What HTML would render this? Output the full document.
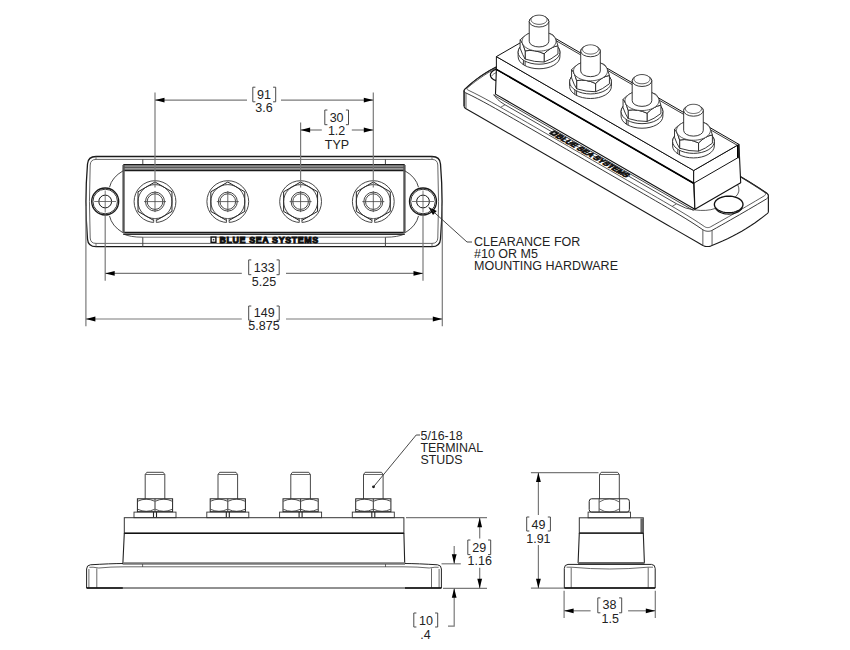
<!DOCTYPE html>
<html><head><meta charset="utf-8"><style>
html,body{margin:0;padding:0;background:#fff;}
svg{display:block;font-family:"Liberation Sans",sans-serif;}
</style></head><body>
<svg width="850" height="650" viewBox="0 0 850 650">
<rect width="850" height="650" fill="#fff"/>
<path d="M96,156.5 H432 Q440,156.5 440.5,164 Q443.6,201.5 440.5,239 Q440,246.7 432,246.7 H96 Q88,246.7 87.5,239 Q84.4,201.5 87.5,164 Q88,156.5 96,156.5 Z" stroke="#1a1a1a" stroke-width="1.3" fill="none" />
<path d="M96,159.4 H432 Q437.5,159.4 437.8,165 Q439.3,201.5 437.8,238 Q437.5,243.4 432,243.4 H96 Q90.5,243.4 90.2,238 Q88.7,201.5 90.2,165 Q90.5,159.4 96,159.4 Z" stroke="#555" stroke-width="0.9" fill="none" />
<line x1="96" y1="156.5" x2="96" y2="159.4" stroke="#555" stroke-width="0.8" />
<line x1="96" y1="243.4" x2="96" y2="246.7" stroke="#555" stroke-width="0.8" />
<line x1="432" y1="156.5" x2="432" y2="159.4" stroke="#555" stroke-width="0.8" />
<line x1="432" y1="243.4" x2="432" y2="246.7" stroke="#555" stroke-width="0.8" />
<line x1="142.8" y1="159.4" x2="142.8" y2="165.4" stroke="#444" stroke-width="1.0" />
<line x1="142.8" y1="237.2" x2="142.8" y2="246.6" stroke="#444" stroke-width="1.0" />
<line x1="385.4" y1="159.4" x2="385.4" y2="165.4" stroke="#444" stroke-width="1.0" />
<line x1="385.4" y1="237.2" x2="385.4" y2="246.6" stroke="#444" stroke-width="1.0" />
<line x1="142.8" y1="237.2" x2="385.4" y2="237.2" stroke="#666" stroke-width="0.9" />
<path d="M123.5,234 Q130,237.2 142.8,237.2" stroke="#444" stroke-width="0.9" fill="none" />
<path d="M404.5,234 Q398,237.2 385.4,237.2" stroke="#444" stroke-width="0.9" fill="none" />
<rect x="123.3" y="164.7" width="281.4" height="5.8" fill="#9a9a9a"/>
<line x1="123.3" y1="164.7" x2="404.7" y2="164.7" stroke="#1a1a1a" stroke-width="1.2" />
<line x1="123.3" y1="167.3" x2="404.7" y2="167.3" stroke="#333" stroke-width="0.8" />
<line x1="123.3" y1="170.5" x2="404.7" y2="170.5" stroke="#1a1a1a" stroke-width="1.3" />
<rect x="123.3" y="232.3" width="281.4" height="2.3" fill="#777"/>
<line x1="123.3" y1="232.4" x2="404.7" y2="232.4" stroke="#1a1a1a" stroke-width="1.3" />
<line x1="123.3" y1="234.5" x2="404.7" y2="234.5" stroke="#222" stroke-width="0.9" />
<rect x="122.4" y="165" width="2.3" height="68" fill="#555"/>
<rect x="403.3" y="165" width="2.3" height="68" fill="#555"/>
<path d="M123.3,170.7 Q111.8,177.2 109.5,187.3" stroke="#333" stroke-width="0.9" fill="none" />
<path d="M122.6,232.5 Q111.8,226 109.5,215.9" stroke="#333" stroke-width="0.9" fill="none" />
<path d="M404.7,170.7 Q416.2,177.2 418.5,187.3" stroke="#333" stroke-width="0.9" fill="none" />
<path d="M405.4,232.5 Q416.2,226 418.5,215.9" stroke="#333" stroke-width="0.9" fill="none" />
<circle cx="105.2" cy="201.5" r="13.5" stroke="#1a1a1a" stroke-width="1.3" fill="none"/>
<circle cx="105.2" cy="201.5" r="12.3" stroke="#333" stroke-width="1.0" fill="none"/>
<circle cx="105.2" cy="201.5" r="6.4" stroke="#1a1a1a" stroke-width="1.0" fill="none"/>
<line x1="94.2" y1="201.5" x2="116.2" y2="201.5" stroke="#555" stroke-width="0.8" />
<line x1="105.2" y1="190.5" x2="105.2" y2="212.5" stroke="#555" stroke-width="0.8" />
<circle cx="423" cy="201.5" r="13.5" stroke="#1a1a1a" stroke-width="1.3" fill="none"/>
<circle cx="423" cy="201.5" r="12.3" stroke="#333" stroke-width="1.0" fill="none"/>
<circle cx="423" cy="201.5" r="6.4" stroke="#1a1a1a" stroke-width="1.0" fill="none"/>
<line x1="412" y1="201.5" x2="434" y2="201.5" stroke="#555" stroke-width="0.8" />
<line x1="423" y1="190.5" x2="423" y2="212.5" stroke="#555" stroke-width="0.8" />
<circle cx="155" cy="201.6" r="20.9" stroke="#333" stroke-width="0.9" fill="none"/>
<polygon points="155.00,182.00 138.03,191.80 138.03,211.40 155.00,221.20 171.97,211.40 171.97,191.80" fill="none" stroke="#222" stroke-width="1.0"/>
<circle cx="155" cy="201.6" r="17.0" stroke="#333" stroke-width="0.9" fill="none"/>
<circle cx="155" cy="201.6" r="9.5" stroke="#333" stroke-width="0.9" fill="none"/>
<circle cx="155" cy="201.6" r="7.8" stroke="#333" stroke-width="0.9" fill="none"/>
<line x1="144" y1="201.6" x2="166" y2="201.6" stroke="#444" stroke-width="0.8" />
<line x1="155" y1="191.1" x2="155" y2="212.1" stroke="#444" stroke-width="0.8" />
<rect x="153.7" y="218.79999999999998" width="2.6" height="4.2" fill="#fff"/>
<line x1="153.7" y1="219.1" x2="153.7" y2="222.4" stroke="#333" stroke-width="0.8" />
<line x1="156.3" y1="219.1" x2="156.3" y2="222.4" stroke="#333" stroke-width="0.8" />
<circle cx="227.8" cy="201.6" r="20.9" stroke="#333" stroke-width="0.9" fill="none"/>
<polygon points="227.80,182.00 210.83,191.80 210.83,211.40 227.80,221.20 244.77,211.40 244.77,191.80" fill="none" stroke="#222" stroke-width="1.0"/>
<circle cx="227.8" cy="201.6" r="17.0" stroke="#333" stroke-width="0.9" fill="none"/>
<circle cx="227.8" cy="201.6" r="9.5" stroke="#333" stroke-width="0.9" fill="none"/>
<circle cx="227.8" cy="201.6" r="7.8" stroke="#333" stroke-width="0.9" fill="none"/>
<line x1="216.8" y1="201.6" x2="238.8" y2="201.6" stroke="#444" stroke-width="0.8" />
<line x1="227.8" y1="191.1" x2="227.8" y2="212.1" stroke="#444" stroke-width="0.8" />
<rect x="226.5" y="218.79999999999998" width="2.6" height="4.2" fill="#fff"/>
<line x1="226.5" y1="219.1" x2="226.5" y2="222.4" stroke="#333" stroke-width="0.8" />
<line x1="229.10000000000002" y1="219.1" x2="229.10000000000002" y2="222.4" stroke="#333" stroke-width="0.8" />
<circle cx="300.6" cy="201.6" r="20.9" stroke="#333" stroke-width="0.9" fill="none"/>
<polygon points="300.60,182.00 283.63,191.80 283.63,211.40 300.60,221.20 317.57,211.40 317.57,191.80" fill="none" stroke="#222" stroke-width="1.0"/>
<circle cx="300.6" cy="201.6" r="17.0" stroke="#333" stroke-width="0.9" fill="none"/>
<circle cx="300.6" cy="201.6" r="9.5" stroke="#333" stroke-width="0.9" fill="none"/>
<circle cx="300.6" cy="201.6" r="7.8" stroke="#333" stroke-width="0.9" fill="none"/>
<line x1="289.6" y1="201.6" x2="311.6" y2="201.6" stroke="#444" stroke-width="0.8" />
<line x1="300.6" y1="191.1" x2="300.6" y2="212.1" stroke="#444" stroke-width="0.8" />
<rect x="299.3" y="218.79999999999998" width="2.6" height="4.2" fill="#fff"/>
<line x1="299.3" y1="219.1" x2="299.3" y2="222.4" stroke="#333" stroke-width="0.8" />
<line x1="301.90000000000003" y1="219.1" x2="301.90000000000003" y2="222.4" stroke="#333" stroke-width="0.8" />
<circle cx="373.3" cy="201.6" r="20.9" stroke="#333" stroke-width="0.9" fill="none"/>
<polygon points="373.30,182.00 356.33,191.80 356.33,211.40 373.30,221.20 390.27,211.40 390.27,191.80" fill="none" stroke="#222" stroke-width="1.0"/>
<circle cx="373.3" cy="201.6" r="17.0" stroke="#333" stroke-width="0.9" fill="none"/>
<circle cx="373.3" cy="201.6" r="9.5" stroke="#333" stroke-width="0.9" fill="none"/>
<circle cx="373.3" cy="201.6" r="7.8" stroke="#333" stroke-width="0.9" fill="none"/>
<line x1="362.3" y1="201.6" x2="384.3" y2="201.6" stroke="#444" stroke-width="0.8" />
<line x1="373.3" y1="191.1" x2="373.3" y2="212.1" stroke="#444" stroke-width="0.8" />
<rect x="372.0" y="218.79999999999998" width="2.6" height="4.2" fill="#fff"/>
<line x1="372.0" y1="219.1" x2="372.0" y2="222.4" stroke="#333" stroke-width="0.8" />
<line x1="374.6" y1="219.1" x2="374.6" y2="222.4" stroke="#333" stroke-width="0.8" />
<rect x="210.4" y="236.4" width="6.2" height="6.6" fill="#111"/>
<rect x="211.8" y="237.8" width="3.4" height="3.8" fill="#fff"/>
<rect x="212.8" y="238.9" width="1.5" height="1.6" fill="#333"/>
<text x="219.5" y="243.1" font-size="8.9" text-anchor="start" fill="#111" font-weight="bold" letter-spacing="0.62" stroke="#111" stroke-width="0.95">BLUE SEA SYSTEMS</text>
<line x1="155" y1="92.5" x2="155" y2="187.5" stroke="#7a7a7a" stroke-width="1.2" />
<line x1="373.3" y1="92.5" x2="373.3" y2="187.5" stroke="#7a7a7a" stroke-width="1.2" />
<line x1="155" y1="100.1" x2="247" y2="100.1" stroke="#7a7a7a" stroke-width="1.2" />
<line x1="281" y1="100.1" x2="373.3" y2="100.1" stroke="#7a7a7a" stroke-width="1.2" />
<path d="M155.00,100.10 L164.50,97.70 L164.50,102.50 Z" fill="#000"/>
<path d="M373.30,100.10 L363.80,102.50 L363.80,97.70 Z" fill="#000"/>
<path d="M255.4,87.2 H252.8 V101.8 H255.4" stroke="#4a4a4a" stroke-width="1.0" fill="none" />
<path d="M273.09999999999997,87.2 H275.7 V101.8 H273.09999999999997" stroke="#4a4a4a" stroke-width="1.0" fill="none" />
<text x="264" y="98.9" font-size="12.5" text-anchor="middle" fill="#222" >91</text>
<text x="264" y="111.8" font-size="12.5" text-anchor="middle" fill="#222" >3.6</text>
<line x1="300.6" y1="122.4" x2="300.6" y2="187.5" stroke="#7a7a7a" stroke-width="1.2" />
<line x1="300.6" y1="130" x2="321.8" y2="130" stroke="#7a7a7a" stroke-width="1.2" />
<line x1="351.8" y1="130" x2="373.3" y2="130" stroke="#7a7a7a" stroke-width="1.2" />
<path d="M300.60,130.00 L310.10,127.60 L310.10,132.40 Z" fill="#000"/>
<path d="M373.30,130.00 L363.80,132.40 L363.80,127.60 Z" fill="#000"/>
<path d="M327.40000000000003,110 H324.8 V124.7 H327.40000000000003" stroke="#4a4a4a" stroke-width="1.0" fill="none" />
<path d="M345.9,110 H348.5 V124.7 H345.9" stroke="#4a4a4a" stroke-width="1.0" fill="none" />
<text x="336.6" y="121.8" font-size="12.5" text-anchor="middle" fill="#222" >30</text>
<text x="336.6" y="134.8" font-size="12.5" text-anchor="middle" fill="#222" >1.2</text>
<text x="337" y="148.8" font-size="12.5" text-anchor="middle" fill="#222" >TYP</text>
<line x1="105.2" y1="215.5" x2="105.2" y2="280.8" stroke="#7a7a7a" stroke-width="1.2" />
<line x1="423" y1="215.5" x2="423" y2="280.8" stroke="#7a7a7a" stroke-width="1.2" />
<line x1="105.2" y1="273.4" x2="241.8" y2="273.4" stroke="#7a7a7a" stroke-width="1.2" />
<line x1="286" y1="273.4" x2="423" y2="273.4" stroke="#7a7a7a" stroke-width="1.2" />
<path d="M105.20,273.40 L114.70,271.00 L114.70,275.80 Z" fill="#000"/>
<path d="M423.00,273.40 L413.50,275.80 L413.50,271.00 Z" fill="#000"/>
<path d="M251.3,259.9 H248.70000000000002 V274.7 H251.3" stroke="#4a4a4a" stroke-width="1.0" fill="none" />
<path d="M276.59999999999997,259.9 H279.2 V274.7 H276.59999999999997" stroke="#4a4a4a" stroke-width="1.0" fill="none" />
<text x="264.3" y="271.7" font-size="12.5" text-anchor="middle" fill="#222" >133</text>
<text x="264" y="285.5" font-size="12.5" text-anchor="middle" fill="#222" >5.25</text>
<line x1="85.9" y1="206" x2="85.9" y2="326.3" stroke="#7a7a7a" stroke-width="1.2" />
<line x1="442.3" y1="206" x2="442.3" y2="326.3" stroke="#7a7a7a" stroke-width="1.2" />
<line x1="85.9" y1="319" x2="241.8" y2="319" stroke="#7a7a7a" stroke-width="1.2" />
<line x1="286" y1="319" x2="442.3" y2="319" stroke="#7a7a7a" stroke-width="1.2" />
<path d="M85.90,319.00 L95.40,316.60 L95.40,321.40 Z" fill="#000"/>
<path d="M442.30,319.00 L432.80,321.40 L432.80,316.60 Z" fill="#000"/>
<path d="M251.3,306 H248.70000000000002 V320.2 H251.3" stroke="#4a4a4a" stroke-width="1.0" fill="none" />
<path d="M276.59999999999997,306 H279.2 V320.2 H276.59999999999997" stroke="#4a4a4a" stroke-width="1.0" fill="none" />
<text x="264.3" y="317.1" font-size="12.5" text-anchor="middle" fill="#222" >149</text>
<text x="264" y="330.3" font-size="12.5" text-anchor="middle" fill="#222" >5.875</text>
<path d="M428.60,207.30 L436.77,210.95 L433.01,215.09 Z" fill="#000"/>
<line x1="428.6" y1="207.3" x2="467" y2="242" stroke="#333" stroke-width="0.9" />
<line x1="467" y1="242" x2="472" y2="242" stroke="#333" stroke-width="0.9" />
<text x="474" y="246.2" font-size="12.5" text-anchor="start" fill="#222" >CLEARANCE FOR</text>
<text x="474" y="258.4" font-size="12.5" text-anchor="start" fill="#222" >#10 OR M5</text>
<text x="474" y="269.7" font-size="12.5" text-anchor="start" fill="#222" >MOUNTING HARDWARE</text>
<path d="M145.2,498.8 V474.5 L146.79999999999998,472.3 H163.20000000000002 L164.8,474.5 V498.8" stroke="#333" stroke-width="0.9" fill="none" />
<line x1="145.2" y1="474.5" x2="164.8" y2="474.5" stroke="#444" stroke-width="0.8" />
<rect x="137.4" y="498.8" width="35.2" height="12.899999999999977" fill="none" stroke="#222" stroke-width="1"/>
<line x1="155" y1="498.8" x2="155" y2="511.7" stroke="#333" stroke-width="1.0" />
<path d="M137.8,501.2 Q146.2,497.2 154.6,501.2" stroke="#333" stroke-width="0.85" fill="none" />
<path d="M137.8,509.3 Q146.2,513.3 154.6,509.3" stroke="#333" stroke-width="0.85" fill="none" />
<path d="M155.4,501.2 Q163.8,497.2 172.2,501.2" stroke="#333" stroke-width="0.85" fill="none" />
<path d="M155.4,509.3 Q163.8,513.3 172.2,509.3" stroke="#333" stroke-width="0.85" fill="none" />
<rect x="134" y="512.1" width="42" height="5.600000000000023" fill="none" stroke="#333" stroke-width="0.9"/>
<line x1="153.5" y1="512.1" x2="153.5" y2="517.7" stroke="#222" stroke-width="1.1" />
<line x1="156.5" y1="512.1" x2="156.5" y2="517.7" stroke="#222" stroke-width="1.1" />
<path d="M218.0,498.8 V474.5 L219.6,472.3 H236.00000000000003 L237.60000000000002,474.5 V498.8" stroke="#333" stroke-width="0.9" fill="none" />
<line x1="218.0" y1="474.5" x2="237.60000000000002" y2="474.5" stroke="#444" stroke-width="0.8" />
<rect x="210.20000000000002" y="498.8" width="35.2" height="12.899999999999977" fill="none" stroke="#222" stroke-width="1"/>
<line x1="227.8" y1="498.8" x2="227.8" y2="511.7" stroke="#333" stroke-width="1.0" />
<path d="M210.60000000000002,501.2 Q219.0,497.2 227.4,501.2" stroke="#333" stroke-width="0.85" fill="none" />
<path d="M210.60000000000002,509.3 Q219.0,513.3 227.4,509.3" stroke="#333" stroke-width="0.85" fill="none" />
<path d="M228.20000000000002,501.2 Q236.60000000000002,497.2 245.0,501.2" stroke="#333" stroke-width="0.85" fill="none" />
<path d="M228.20000000000002,509.3 Q236.60000000000002,513.3 245.0,509.3" stroke="#333" stroke-width="0.85" fill="none" />
<rect x="206.8" y="512.1" width="42" height="5.600000000000023" fill="none" stroke="#333" stroke-width="0.9"/>
<line x1="226.3" y1="512.1" x2="226.3" y2="517.7" stroke="#222" stroke-width="1.1" />
<line x1="229.3" y1="512.1" x2="229.3" y2="517.7" stroke="#222" stroke-width="1.1" />
<path d="M290.8,498.8 V474.5 L292.40000000000003,472.3 H308.8 L310.40000000000003,474.5 V498.8" stroke="#333" stroke-width="0.9" fill="none" />
<line x1="290.8" y1="474.5" x2="310.40000000000003" y2="474.5" stroke="#444" stroke-width="0.8" />
<rect x="283.0" y="498.8" width="35.2" height="12.899999999999977" fill="none" stroke="#222" stroke-width="1"/>
<line x1="300.6" y1="498.8" x2="300.6" y2="511.7" stroke="#333" stroke-width="1.0" />
<path d="M283.4,501.2 Q291.8,497.2 300.20000000000005,501.2" stroke="#333" stroke-width="0.85" fill="none" />
<path d="M283.4,509.3 Q291.8,513.3 300.20000000000005,509.3" stroke="#333" stroke-width="0.85" fill="none" />
<path d="M301.0,501.2 Q309.40000000000003,497.2 317.80000000000007,501.2" stroke="#333" stroke-width="0.85" fill="none" />
<path d="M301.0,509.3 Q309.40000000000003,513.3 317.80000000000007,509.3" stroke="#333" stroke-width="0.85" fill="none" />
<rect x="279.6" y="512.1" width="42" height="5.600000000000023" fill="none" stroke="#333" stroke-width="0.9"/>
<line x1="299.1" y1="512.1" x2="299.1" y2="517.7" stroke="#222" stroke-width="1.1" />
<line x1="302.1" y1="512.1" x2="302.1" y2="517.7" stroke="#222" stroke-width="1.1" />
<path d="M363.5,498.8 V474.5 L365.1,472.3 H381.5 L383.1,474.5 V498.8" stroke="#333" stroke-width="0.9" fill="none" />
<line x1="363.5" y1="474.5" x2="383.1" y2="474.5" stroke="#444" stroke-width="0.8" />
<rect x="355.7" y="498.8" width="35.2" height="12.899999999999977" fill="none" stroke="#222" stroke-width="1"/>
<line x1="373.3" y1="498.8" x2="373.3" y2="511.7" stroke="#333" stroke-width="1.0" />
<path d="M356.09999999999997,501.2 Q364.5,497.2 372.90000000000003,501.2" stroke="#333" stroke-width="0.85" fill="none" />
<path d="M356.09999999999997,509.3 Q364.5,513.3 372.90000000000003,509.3" stroke="#333" stroke-width="0.85" fill="none" />
<path d="M373.7,501.2 Q382.1,497.2 390.50000000000006,501.2" stroke="#333" stroke-width="0.85" fill="none" />
<path d="M373.7,509.3 Q382.1,513.3 390.50000000000006,509.3" stroke="#333" stroke-width="0.85" fill="none" />
<rect x="352.3" y="512.1" width="42" height="5.600000000000023" fill="none" stroke="#333" stroke-width="0.9"/>
<line x1="371.8" y1="512.1" x2="371.8" y2="517.7" stroke="#222" stroke-width="1.1" />
<line x1="374.8" y1="512.1" x2="374.8" y2="517.7" stroke="#222" stroke-width="1.1" />
<rect x="124.3" y="517.7" width="279.6" height="15.6" fill="none" stroke="#333" stroke-width="1"/>
<line x1="124.3" y1="533.3" x2="403.9" y2="533.3" stroke="#111" stroke-width="1.4" />
<path d="M124.3,533.3 L122.9,563 M403.9,533.3 L404.7,563" stroke="#222" stroke-width="1.1" fill="none" />
<line x1="122.6" y1="563.5" x2="405" y2="563.5" stroke="#777" stroke-width="2.4" />
<path d="M123,563.5 Q110,563.6 90.4,564.8 Q86.6,565.2 86.6,569 V588 H441.4 V569 Q441.4,565.2 437.6,564.8 Q418,563.6 405,563.5" stroke="#222" stroke-width="1.0" fill="none" />
<path d="M89.4,567.3 Q92,566.8 98.8,568 Q110,566.8 125,566.8 H403 Q418,566.8 429.2,568 Q436,566.8 438.6,567.3" stroke="#444" stroke-width="0.8" fill="none" />
<line x1="88.9" y1="569" x2="88.9" y2="588" stroke="#444" stroke-width="0.8" />
<line x1="96.8" y1="568.4" x2="96.8" y2="588" stroke="#444" stroke-width="0.8" />
<line x1="439.1" y1="569" x2="439.1" y2="588" stroke="#444" stroke-width="0.8" />
<line x1="431.5" y1="568.4" x2="431.5" y2="588" stroke="#444" stroke-width="0.8" />
<line x1="142.6" y1="564" x2="142.6" y2="567" stroke="#444" stroke-width="0.8" />
<line x1="385.5" y1="564" x2="385.5" y2="567" stroke="#444" stroke-width="0.8" />
<line x1="86.6" y1="588" x2="122.8" y2="588" stroke="#111" stroke-width="1.5" />
<line x1="405" y1="588" x2="441.4" y2="588" stroke="#111" stroke-width="1.5" />
<line x1="406" y1="517.7" x2="487" y2="517.7" stroke="#7a7a7a" stroke-width="1.2" />
<line x1="443" y1="588.3" x2="487" y2="588.3" stroke="#7a7a7a" stroke-width="1.2" />
<line x1="441.5" y1="563.8" x2="460.8" y2="563.8" stroke="#7a7a7a" stroke-width="1.2" />
<line x1="479.7" y1="517.7" x2="479.7" y2="538.5" stroke="#7a7a7a" stroke-width="1.2" />
<line x1="479.7" y1="567.7" x2="479.7" y2="588.3" stroke="#7a7a7a" stroke-width="1.2" />
<path d="M479.70,517.70 L482.10,527.20 L477.30,527.20 Z" fill="#000"/>
<path d="M479.70,588.30 L477.30,578.80 L482.10,578.80 Z" fill="#000"/>
<path d="M470.40000000000003,540 H467.8 V554.6 H470.40000000000003" stroke="#4a4a4a" stroke-width="1.0" fill="none" />
<path d="M488.09999999999997,540 H490.7 V554.6 H488.09999999999997" stroke="#4a4a4a" stroke-width="1.0" fill="none" />
<text x="479.2" y="551.5" font-size="12.5" text-anchor="middle" fill="#222" >29</text>
<text x="479.7" y="564.6" font-size="12.5" text-anchor="middle" fill="#222" >1.16</text>
<line x1="454.2" y1="546" x2="454.2" y2="563.8" stroke="#7a7a7a" stroke-width="1.2" />
<path d="M454.20,563.80 L451.80,554.30 L456.60,554.30 Z" fill="#000"/>
<path d="M454.2,588.3 V626.2 H448" stroke="#7a7a7a" stroke-width="1.2" fill="none" />
<path d="M454.20,588.30 L456.60,597.80 L451.80,597.80 Z" fill="#000"/>
<path d="M416.40000000000003,613 H413.8 V627 H416.40000000000003" stroke="#4a4a4a" stroke-width="1.0" fill="none" />
<path d="M435.09999999999997,613 H437.7 V627 H435.09999999999997" stroke="#4a4a4a" stroke-width="1.0" fill="none" />
<text x="426" y="624.5" font-size="12.5" text-anchor="middle" fill="#222" >10</text>
<text x="425.5" y="638.5" font-size="12.5" text-anchor="middle" fill="#222" >.4</text>
<circle cx="373.5" cy="486.8" r="1.4" fill="#111"/>
<line x1="373.5" y1="486.8" x2="416.2" y2="435" stroke="#333" stroke-width="0.9" />
<line x1="416.2" y1="435" x2="420" y2="435" stroke="#333" stroke-width="0.9" />
<text x="420.5" y="439.8" font-size="12.4" text-anchor="start" fill="#222" >5/16-18</text>
<text x="420.5" y="451.9" font-size="12.4" text-anchor="start" fill="#222" >TERMINAL</text>
<text x="420.5" y="463.7" font-size="12.4" text-anchor="start" fill="#222" >STUDS</text>
<path d="M599.5,499 V474.5 L601.2,472.3 H617.6 L619.3,474.5 V499" stroke="#333" stroke-width="0.9" fill="none" />
<line x1="599.5" y1="474.5" x2="619.3" y2="474.5" stroke="#444" stroke-width="0.8" />
<path d="M599.1,498.8 H591.5 Q589.2,498.8 589.2,501.5 V509.4 Q589.2,512.1 591.5,512.1 H599.1" stroke="#222" stroke-width="1.0" fill="none" />
<path d="M619.6,498.8 H627.1 Q629.4,498.8 629.4,501.5 V509.4 Q629.4,512.1 627.1,512.1 H619.6" stroke="#222" stroke-width="1.0" fill="none" />
<line x1="599.1" y1="498.8" x2="619.6" y2="498.8" stroke="#222" stroke-width="1.0" />
<line x1="599.1" y1="512.1" x2="619.6" y2="512.1" stroke="#222" stroke-width="1.0" />
<line x1="599.1" y1="498.8" x2="599.1" y2="512.1" stroke="#333" stroke-width="0.9" />
<line x1="619.6" y1="498.8" x2="619.6" y2="512.1" stroke="#333" stroke-width="0.9" />
<path d="M599.3,502 Q609.4,495.6 619.4,502" stroke="#444" stroke-width="0.8" fill="none" />
<path d="M599.3,508.9 Q609.4,515.3 619.4,508.9" stroke="#444" stroke-width="0.8" fill="none" />
<rect x="588.1" y="512.1" width="42.4" height="5.7" fill="none" stroke="#333" stroke-width="0.9"/>
<rect x="579.3" y="517.8" width="64" height="15.3" fill="none" stroke="#333" stroke-width="1"/>
<path d="M640.4,518.3 H643.3 V533.1 H640.4 Z" fill="#666"/>
<line x1="579.3" y1="533.1" x2="643.3" y2="533.1" stroke="#111" stroke-width="1.4" />
<path d="M579.3,533.1 L578.1,563 M643.3,533.1 L644.4,563" stroke="#222" stroke-width="1.1" fill="none" />
<line x1="578" y1="563.3" x2="644.6" y2="563.3" stroke="#666" stroke-width="2.4" />
<path d="M564.3,588 V568.5 Q564.3,564.6 568,564.4 L651.5,564.4 Q655.2,564.6 655.2,568.5 V588 Z" stroke="#222" stroke-width="1.0" fill="none" />
<path d="M566.5,567.2 H571.5 Q609.7,570.8 648,567.2 H653" stroke="#444" stroke-width="0.8" fill="none" />
<line x1="571.2" y1="567.5" x2="571.2" y2="588" stroke="#444" stroke-width="0.8" />
<line x1="648.2" y1="567.5" x2="648.2" y2="588" stroke="#444" stroke-width="0.8" />
<line x1="564.3" y1="588" x2="655.2" y2="588" stroke="#111" stroke-width="1.3" />
<line x1="530.9" y1="472.6" x2="598.5" y2="472.6" stroke="#7a7a7a" stroke-width="1.2" />
<line x1="530.9" y1="588.2" x2="564" y2="588.2" stroke="#7a7a7a" stroke-width="1.2" />
<line x1="538.4" y1="472.6" x2="538.4" y2="515" stroke="#7a7a7a" stroke-width="1.2" />
<line x1="538.4" y1="545" x2="538.4" y2="588.2" stroke="#7a7a7a" stroke-width="1.2" />
<path d="M538.40,472.60 L540.80,482.10 L536.00,482.10 Z" fill="#000"/>
<path d="M538.40,588.20 L536.00,578.70 L540.80,578.70 Z" fill="#000"/>
<path d="M529.3,517 H526.6999999999999 V531 H529.3" stroke="#4a4a4a" stroke-width="1.0" fill="none" />
<path d="M547.8000000000001,517 H550.4000000000001 V531 H547.8000000000001" stroke="#4a4a4a" stroke-width="1.0" fill="none" />
<text x="538.4" y="529" font-size="12.5" text-anchor="middle" fill="#222" >49</text>
<text x="538.4" y="543" font-size="12.5" text-anchor="middle" fill="#222" >1.91</text>
<line x1="564.1" y1="590.8" x2="564.1" y2="618" stroke="#7a7a7a" stroke-width="1.2" />
<line x1="655.3" y1="590.8" x2="655.3" y2="618" stroke="#7a7a7a" stroke-width="1.2" />
<line x1="564.1" y1="610.8" x2="590.6" y2="610.8" stroke="#7a7a7a" stroke-width="1.2" />
<line x1="628.1" y1="610.8" x2="655.3" y2="610.8" stroke="#7a7a7a" stroke-width="1.2" />
<path d="M564.10,610.80 L573.60,608.40 L573.60,613.20 Z" fill="#000"/>
<path d="M655.30,610.80 L645.80,613.20 L645.80,608.40 Z" fill="#000"/>
<path d="M600.4,597.9 H597.8 V612.8 H600.4" stroke="#4a4a4a" stroke-width="1.0" fill="none" />
<path d="M619.1,597.9 H621.7 V612.8 H619.1" stroke="#4a4a4a" stroke-width="1.0" fill="none" />
<text x="609.4" y="608.9" font-size="12.5" text-anchor="middle" fill="#222" >38</text>
<text x="610.3" y="623.1" font-size="12.5" text-anchor="middle" fill="#222" >1.5</text>
<path d="M464.08,90.74 L464.17,90.22 L464.40,89.70 L464.79,89.19 L465.33,88.72 L469.45,85.03 L473.10,81.90 L476.95,78.89 L481.00,75.98 L485.24,73.19 L489.68,70.52 L494.31,67.95 L499.14,65.51 L504.17,63.17 L509.40,60.95 L514.82,58.84 L522.68,55.79 L523.22,55.59 L523.80,55.43 L524.41,55.31 L525.03,55.25 L525.66,55.23 L526.27,55.27 L526.85,55.36 L527.38,55.50 L528.85,55.94 L529.63,56.24 L535.55,59.09 L541.47,62.12 L547.39,65.27 L553.32,68.52 L559.24,71.82 L565.16,75.17 L571.08,78.54 L577.00,81.94 L582.93,85.34 L588.85,88.75 L594.77,92.17 L606.62,99.00 L618.46,105.84 L648.07,122.94 L659.91,129.78 L689.52,146.87 L695.45,150.29 L701.37,153.71 L707.29,157.13 L713.21,160.56 L719.13,164.00 L725.06,167.44 L730.98,170.90 L736.90,174.39 L742.82,177.93 L748.75,181.52 L754.67,185.21 L760.59,189.02 L766.51,193.00 L767.17,193.54 L767.71,194.12 L768.10,194.75 L768.34,195.41 L768.41,196.07 L768.41,211.36 L768.34,211.95 L768.10,212.52 L767.71,213.07 L767.17,213.57 L762.73,217.07 L758.81,220.05 L754.75,222.95 L750.56,225.77 L746.23,228.50 L741.76,231.16 L737.16,233.74 L732.41,236.25 L727.53,238.67 L722.51,241.01 L717.36,243.27 L711.29,245.84 L710.42,246.14 L709.48,246.37 L708.48,246.51 L707.47,246.55 L706.45,246.51 L705.46,246.37 L704.52,246.14 L703.65,245.84 L702.87,245.45 L696.95,242.03 L673.26,228.36 L667.34,224.94 L602.20,187.33 L477.83,115.53 L465.99,108.69 L465.33,108.24 L464.79,107.74 L464.40,107.19 L464.17,106.62 L464.08,106.04 Z" stroke="#1a1a1a" stroke-width="1.1" fill="#fff" stroke-linejoin="round"/>
<path d="M712.06,230.35 L711.29,230.72 L710.42,231.00 L709.48,231.19 L708.48,231.27 L707.47,231.25 L706.45,231.13 L705.46,230.92 L704.52,230.61 L703.65,230.21 L702.87,229.75 L696.95,225.76 L691.03,221.95 L685.10,218.26 L679.18,214.67 L673.26,211.13 L667.34,207.64 L661.42,204.18 L655.49,200.74 L649.57,197.30 L643.65,193.88 L637.73,190.45 L631.81,187.03 L625.88,183.61 L619.96,180.19 L614.04,176.78 L608.12,173.36 L602.20,169.94 L596.27,166.52 L590.35,163.10 L584.43,159.68 L578.51,156.26 L572.59,152.84 L566.66,149.42 L560.74,146.00 L554.82,142.58 L548.90,139.17 L542.98,135.75 L537.05,132.33 L531.13,128.91 L525.21,125.50 L519.29,122.08 L513.37,118.68 L507.44,115.29 L501.52,111.91 L495.60,108.56 L489.68,105.26 L483.76,102.01 L477.83,98.86 L471.91,95.84 L465.99,92.98 L465.33,92.62 L464.79,92.20 L464.40,91.74 L464.17,91.25 L464.09,90.74 L464.17,90.22 L464.40,89.70 L464.79,89.19 L465.33,88.72 L465.99,88.28 L469.45,85.03 L473.10,81.90 L476.95,78.89 L481.00,75.98 L485.24,73.19 L489.68,70.52 L494.31,67.96 L499.14,65.51 L504.17,63.17 L509.40,60.95 L514.82,58.84 L520.44,56.84 L521.21,56.45 L522.08,56.12 L523.02,55.85 L524.02,55.66 L525.03,55.55 L526.05,55.52 L527.04,55.58 L527.98,55.72 L528.85,55.94 L529.63,56.24 L535.55,59.09 L541.47,62.12 L547.40,65.27 L553.32,68.51 L559.24,71.82 L565.16,75.17 L571.08,78.54 L577.01,81.94 L582.93,85.34 L588.85,88.75 L594.77,92.17 L600.69,95.59 L606.62,99.00 L612.54,102.42 L618.46,105.84 L624.38,109.26 L630.30,112.68 L636.23,116.10 L642.15,119.52 L648.07,122.94 L653.99,126.36 L659.91,129.78 L665.84,133.19 L671.76,136.61 L677.68,140.03 L683.60,143.45 L689.52,146.87 L695.45,150.29 L701.37,153.71 L707.29,157.13 L713.21,160.56 L719.13,163.99 L725.06,167.44 L730.98,170.90 L736.90,174.39 L742.82,177.93 L748.74,181.52 L754.67,185.21 L760.59,189.02 L766.51,193.01 L767.17,193.54 L767.71,194.12 L768.10,194.75 L768.33,195.41 L768.41,196.07 L768.33,196.72 L768.10,197.35 L767.71,197.93 L767.17,198.46 L766.51,198.91 L762.04,201.57 L757.55,204.22 L753.06,206.86 L748.55,209.50 L744.03,212.13 L739.50,214.75 L734.96,217.37 L730.40,219.98 L725.83,222.58 L721.26,225.18 L716.67,227.77 L712.06,230.35" stroke="#222" stroke-width="0.9" fill="none" stroke-linejoin="round"/>
<path d="M710.30,227.01 L709.82,227.24 L709.28,227.41 L708.70,227.53 L708.09,227.59 L707.47,227.58 L706.84,227.51 L706.23,227.38 L705.65,227.19 L705.12,226.95 L704.64,226.66 L698.73,222.69 L692.82,218.89 L686.90,215.21 L680.99,211.63 L675.08,208.10 L669.17,204.62 L663.26,201.16 L657.35,197.72 L651.44,194.30 L645.52,190.88 L639.61,187.46 L633.70,184.05 L627.79,180.63 L621.88,177.22 L615.97,173.81 L610.06,170.39 L604.14,166.98 L598.23,163.57 L592.32,160.15 L586.41,156.74 L580.50,153.33 L574.59,149.91 L568.68,146.50 L562.76,143.09 L556.85,139.68 L550.94,136.26 L545.03,132.85 L539.12,129.44 L533.21,126.03 L527.30,122.62 L521.38,119.21 L515.47,115.81 L509.56,112.42 L503.65,109.05 L497.74,105.71 L491.83,102.41 L485.92,99.17 L480.00,96.02 L474.09,93.00 L468.18,90.14 L467.77,89.92 L467.45,89.66 L467.21,89.37 L467.06,89.07 L467.01,88.75 L467.06,88.42 L467.21,88.10 L467.45,87.79 L467.77,87.49 L468.18,87.22 L471.82,84.24 L475.61,81.34 L479.57,78.48 L483.67,75.65 L487.94,72.92 L492.36,70.27 L496.94,67.72 L501.68,65.26 L506.58,62.88 L511.63,60.54 L516.84,58.25 L522.20,56.03 L522.68,55.79 L523.22,55.59 L523.80,55.43 L524.41,55.31 L525.03,55.25 L525.66,55.24 L526.27,55.27 L526.85,55.36 L527.38,55.50 L527.86,55.69 L533.77,58.54 L539.68,61.57 L545.60,64.72 L551.51,67.96 L557.42,71.26 L563.33,74.60 L569.24,77.97 L575.15,81.36 L581.06,84.76 L586.98,88.16 L592.89,91.57 L598.80,94.98 L604.71,98.39 L610.62,101.81 L616.53,105.22 L622.44,108.63 L628.36,112.05 L634.27,115.46 L640.18,118.87 L646.09,122.28 L652.00,125.70 L657.91,129.11 L663.82,132.52 L669.74,135.94 L675.65,139.35 L681.56,142.76 L687.47,146.18 L693.38,149.59 L699.29,153.00 L705.20,156.42 L711.12,159.84 L717.03,163.27 L722.94,166.71 L728.85,170.16 L734.76,173.65 L740.67,177.17 L746.58,180.76 L752.50,184.43 L758.41,188.23 L764.32,192.21 L764.73,192.53 L765.05,192.89 L765.29,193.27 L765.44,193.67 L765.49,194.08 L765.44,194.48 L765.29,194.86 L765.05,195.21 L764.73,195.54 L764.32,195.82 L759.88,198.46 L755.43,201.10 L750.97,203.73 L746.50,206.35 L742.02,208.96 L737.52,211.56 L733.01,214.16 L728.49,216.74 L723.96,219.32 L719.42,221.89 L714.86,224.45 L710.30,227.01" stroke="#333" stroke-width="0.8" fill="none" stroke-linejoin="round"/>
<path d="M712.06,245.45 L712.06,230.35" stroke="#333" stroke-width="0.8" fill="none" stroke-linejoin="round"/>
<path d="M702.87,245.45 L702.87,229.75" stroke="#333" stroke-width="0.8" fill="none" stroke-linejoin="round"/>
<path d="M465.99,108.69 L465.99,92.98" stroke="#333" stroke-width="0.8" fill="none" stroke-linejoin="round"/>
<path d="M464.09,106.04 L464.09,90.93" stroke="#222" stroke-width="1.0" fill="none" stroke-linejoin="round"/>
<path d="M768.41,211.36 L768.41,196.26" stroke="#222" stroke-width="1.0" fill="none" stroke-linejoin="round"/>
<path d="M509.69,79.62 L508.58,80.18 L507.35,80.66 L506.02,81.04 L504.62,81.31 L503.17,81.48 L501.70,81.53 L500.22,81.48 L498.77,81.31 L497.37,81.04 L496.05,80.66 L494.82,80.18 L493.71,79.62 L492.73,78.98 L491.91,78.27 L491.26,77.51 L490.78,76.70 L490.49,75.86 L490.40,75.01 L490.49,74.16 L490.78,73.32 L491.26,72.51 L491.91,71.75 L492.73,71.04 L493.71,70.40 L494.82,69.83 L496.05,69.36 L497.37,68.98 L498.77,68.71 L500.22,68.54 L501.70,68.48 L503.17,68.54 L504.62,68.71 L506.02,68.98 L507.35,69.36 L508.58,69.83 L509.69,70.40 L510.66,71.04 L511.48,71.75 L512.14,72.51 L512.61,73.32 L512.90,74.16 L513.00,75.01 L512.90,75.86 L512.61,76.70 L512.14,77.51 L511.48,78.27 L510.66,78.98 L509.69,79.62 Z" stroke="#111" stroke-width="1.2" fill="#fff" stroke-linejoin="round"/>
<path d="M491.56,76.30 L491.95,75.61 L492.49,74.95 L493.16,74.34 L493.96,73.77 L494.86,73.27 L495.86,72.83 L496.95,72.46 L498.11,72.17 L499.31,71.96 L500.56,71.84 L501.81,71.80 L503.07,71.86 L504.30,71.99 L505.50,72.22 L506.65,72.52 L507.72,72.90" stroke="#444" stroke-width="0.8" fill="none" stroke-linejoin="round"/>
<path d="M738.79,210.26 L737.39,210.97 L735.83,211.57 L734.15,212.05 L732.38,212.40 L730.55,212.61 L728.68,212.68 L726.81,212.61 L724.98,212.40 L723.21,212.05 L721.53,211.57 L719.98,210.97 L718.57,210.26 L717.34,209.45 L716.30,208.55 L715.47,207.58 L714.87,206.56 L714.50,205.50 L714.38,204.42 L714.50,203.35 L714.87,202.29 L715.47,201.26 L716.30,200.30 L717.34,199.40 L718.57,198.59 L719.98,197.87 L721.53,197.27 L723.21,196.80 L724.98,196.45 L726.81,196.24 L728.68,196.17 L730.55,196.24 L732.38,196.45 L734.15,196.80 L735.83,197.27 L737.39,197.87 L738.79,198.59 L740.03,199.40 L741.06,200.30 L741.89,201.26 L742.49,202.29 L742.86,203.35 L742.98,204.42 L742.86,205.50 L742.49,206.56 L741.89,207.58 L741.06,208.55 L740.03,209.45 L738.79,210.26 Z" stroke="#111" stroke-width="1.35" fill="#fff" stroke-linejoin="round"/>
<path d="M742.07,207.58 L741.71,208.47 L741.17,209.33 L740.46,210.15 L739.59,210.91 L738.57,211.61 L737.42,212.24 L736.15,212.78 L734.78,213.24 L733.33,213.60 L731.82,213.86 L730.26,214.02 L728.68,214.07 L727.10,214.02 L725.54,213.86 L724.03,213.60 L722.58,213.24 L721.21,212.78 L719.94,212.24 L718.79,211.61 L717.77,210.91 L716.90,210.15 L716.19,209.33 L715.65,208.47 L715.29,207.58" stroke="#111" stroke-width="1.2" fill="none" stroke-linejoin="round"/>
<path d="M737.59,184.34 Q741.13,191.69 735.61,196.75" stroke="#333" stroke-width="0.8" fill="none"/>
<path d="M694.39,209.85 Q706.62,211.61 715.39,208.42" stroke="#333" stroke-width="0.8" fill="none"/>
<path d="M505.02,104.77 L676.57,203.81" stroke="#333" stroke-width="0.9" fill="none" stroke-linejoin="round"/>
<path d="M494.13,94.48 Q495.97,99.54 505.02,104.77" stroke="#333" stroke-width="0.9" fill="none"/>
<path d="M694.24,210.02 Q685.48,208.96 676.57,203.81" stroke="#333" stroke-width="0.9" fill="none"/>
<path d="M505.02,104.77 L500.71,107.26" stroke="#444" stroke-width="0.8" fill="none" stroke-linejoin="round"/>
<path d="M676.57,203.81 L672.25,206.30" stroke="#444" stroke-width="0.8" fill="none" stroke-linejoin="round"/>
<g transform="matrix(0.70711,0.40825,-0.70711,0.40825,554.87,136.74)"><text x="0" y="0" font-size="10" font-weight="bold" fill="#111" stroke="#111" stroke-width="1.0" letter-spacing="0.0">BLUE SEA SYSTEMS</text></g>
<g transform="matrix(0.70711,0.40825,-0.70711,0.40825,549.07,133.39)"><rect x="0" y="-7.2" width="7" height="7.2" fill="#111" stroke="#111" stroke-width="0.6"/><rect x="2.2" y="-5" width="2.6" height="2.8" fill="#bbb"/></g>
<path d="M493.35,94.93 L693.47,210.47" stroke="#333" stroke-width="0.9" fill="none" stroke-linejoin="round"/>
<path d="M495.48,94.11 L694.88,209.24 L693.68,183.24 L496.39,69.33 Z" stroke="#111" stroke-width="1.1" fill="#fff" stroke-linejoin="round"/>
<path d="M694.88,209.24 L740.70,182.79 L738.93,144.37 L693.68,170.50 Z" stroke="#111" stroke-width="1.1" fill="#fff" stroke-linejoin="round"/>
<path d="M496.39,69.33 L693.68,183.24 L693.68,170.50 L496.39,56.60 Z" stroke="#111" stroke-width="1.0" fill="#fff" stroke-linejoin="round"/>
<path d="M693.68,183.24 L737.80,157.76 L737.80,145.02 L693.68,170.50 Z" stroke="#111" stroke-width="1.0" fill="#fff" stroke-linejoin="round"/>
<path d="M737.80,157.76 L739.15,158.05 L738.93,144.37 L737.80,145.02 Z" stroke="#222" stroke-width="0.7" fill="#666" stroke-linejoin="round"/>
<path d="M496.39,56.60 L693.68,170.50 L738.93,144.37 L541.65,30.47 Z" stroke="#111" stroke-width="1.0" fill="#fff" stroke-linejoin="round"/>
<path d="M496.39,69.33 L693.68,183.24" stroke="#000" stroke-width="1.6" fill="none" stroke-linejoin="round"/>
<path d="M540.73,31.82 L737.31,145.31" stroke="#222" stroke-width="0.9" fill="none" stroke-linejoin="round"/>
<path d="M737.80,145.02 L737.80,157.76" stroke="#000" stroke-width="1.6" fill="none" stroke-linejoin="round"/>
<path d="M518.13,52.15 L518.13,56.72 A20.90,12.07 0 0 0 559.93,56.72 L559.93,52.15 A20.90,12.07 0 0 0 518.13,52.15 Z" stroke="#222" stroke-width="0.9" fill="#fff"/>
<ellipse cx="539.03" cy="52.15" rx="20.90" ry="12.07" stroke="#222" stroke-width="0.9" fill="#fff"/>
<path d="M523.41,64.76 L523.41,60.19" stroke="#222" stroke-width="0.9" fill="none" stroke-linejoin="round"/>
<path d="M525.10,65.74 L525.10,61.17" stroke="#222" stroke-width="0.9" fill="none" stroke-linejoin="round"/>
<path d="M557.97,54.01 Q551.04,59.65 544.11,62.02 L544.11,53.77 Q551.04,46.67 557.97,45.77 Z" stroke="#222" stroke-width="0.9" fill="#fff" stroke-linejoin="round"/>
<path d="M544.11,62.02 Q534.64,62.18 525.17,59.09 L525.17,50.84 Q534.64,49.20 544.11,53.77 Z" stroke="#222" stroke-width="0.9" fill="#fff" stroke-linejoin="round"/>
<path d="M525.17,59.09 Q522.64,55.25 520.10,48.16 L520.10,39.91 Q522.64,42.27 525.17,50.84 Z" stroke="#222" stroke-width="0.9" fill="#fff" stroke-linejoin="round"/>
<path d="M552.89,34.84 Q555.43,37.20 557.97,45.77 Q551.04,46.67 544.11,53.77 Q534.64,49.20 525.17,50.84 Q522.64,42.27 520.10,39.91 Q527.03,32.81 533.96,31.91 Q543.43,30.27 552.89,34.84 Z" stroke="#222" stroke-width="0.9" fill="#fff" stroke-linejoin="round"/>
<path d="M551.05,48.23 L549.38,49.07 L547.53,49.79 L545.54,50.36 L543.43,50.77 L541.25,51.02 L539.03,51.10 L536.81,51.02 L534.63,50.77 L532.53,50.36 L530.53,49.79 L528.68,49.07 L527.01,48.23 L525.55,47.26 L524.31,46.19 L523.33,45.04 L522.61,43.83 L522.18,42.57 L522.03,41.29 L522.18,40.01 L522.61,38.75 L523.33,37.53 L524.31,36.38 L525.55,35.31 L527.01,34.35 L528.68,33.50 L530.53,32.79 L532.53,32.22 L534.63,31.81 L536.81,31.56 L539.03,31.47 L541.25,31.56 L543.43,31.81 L545.54,32.22 L547.53,32.79 L549.38,33.50 L551.05,34.35 L552.52,35.31 L553.76,36.38 L554.74,37.53 L555.45,38.75 L555.89,40.01 L556.03,41.29 L555.89,42.57 L555.45,43.83 L554.74,45.04 L553.76,46.19 L552.52,47.26 L551.05,48.23 Z" stroke="#333" stroke-width="0.8" fill="#fff" stroke-linejoin="round"/>
<path d="M529.23,21.36 L529.23,41.29 A9.80,5.66 0 0 0 548.83,41.29 L548.83,21.36 A9.80,5.66 0 0 0 529.23,21.36 Z" stroke="#222" stroke-width="0.9" fill="#fff"/>
<ellipse cx="539.03" cy="21.36" rx="9.80" ry="5.66" stroke="#222" stroke-width="0.9" fill="#fff"/>
<path d="M544.69,23.00 L543.90,23.40 L543.03,23.73 L542.10,24.00 L541.10,24.19 L540.08,24.31 L539.03,24.35 L537.99,24.31 L536.96,24.19 L535.97,24.00 L535.03,23.73 L534.16,23.40 L533.38,23.00 L532.69,22.54 L532.11,22.04 L531.64,21.50 L531.31,20.93 L531.10,20.33 L531.03,19.73 L531.10,19.13 L531.31,18.54 L531.64,17.96 L532.11,17.42 L532.69,16.92 L533.38,16.47 L534.16,16.07 L535.03,15.73 L535.97,15.46 L536.96,15.27 L537.99,15.15 L539.03,15.11 L540.08,15.15 L541.10,15.27 L542.10,15.46 L543.03,15.73 L543.90,16.07 L544.69,16.47 L545.38,16.92 L545.96,17.42 L546.42,17.96 L546.76,18.54 L546.97,19.13 L547.03,19.73 L546.97,20.33 L546.76,20.93 L546.42,21.50 L545.96,22.04 L545.38,22.54 L544.69,23.00 Z" stroke="#333" stroke-width="0.8" fill="#fff" stroke-linejoin="round"/>
<path d="M569.61,81.87 L569.61,86.44 A20.90,12.07 0 0 0 611.41,86.44 L611.41,81.87 A20.90,12.07 0 0 0 569.61,81.87 Z" stroke="#222" stroke-width="0.9" fill="#fff"/>
<ellipse cx="590.51" cy="81.87" rx="20.90" ry="12.07" stroke="#222" stroke-width="0.9" fill="#fff"/>
<path d="M574.88,94.48 L574.88,89.91" stroke="#222" stroke-width="0.9" fill="none" stroke-linejoin="round"/>
<path d="M576.58,95.46 L576.58,90.89" stroke="#222" stroke-width="0.9" fill="none" stroke-linejoin="round"/>
<path d="M609.44,83.73 Q602.51,89.37 595.58,91.74 L595.58,83.49 Q602.51,76.39 609.44,75.49 Z" stroke="#222" stroke-width="0.9" fill="#fff" stroke-linejoin="round"/>
<path d="M595.58,91.74 Q586.12,91.90 576.65,88.81 L576.65,80.56 Q586.12,78.92 595.58,83.49 Z" stroke="#222" stroke-width="0.9" fill="#fff" stroke-linejoin="round"/>
<path d="M576.65,88.81 Q574.12,84.98 571.58,77.88 L571.58,69.63 Q574.12,71.99 576.65,80.56 Z" stroke="#222" stroke-width="0.9" fill="#fff" stroke-linejoin="round"/>
<path d="M604.37,64.56 Q606.91,66.92 609.44,75.49 Q602.51,76.39 595.58,83.49 Q586.12,78.92 576.65,80.56 Q574.12,71.99 571.58,69.63 Q578.51,62.53 585.44,61.63 Q594.90,59.99 604.37,64.56 Z" stroke="#222" stroke-width="0.9" fill="#fff" stroke-linejoin="round"/>
<path d="M602.53,77.95 L600.86,78.79 L599.01,79.51 L597.02,80.08 L594.91,80.49 L592.73,80.74 L590.51,80.82 L588.29,80.74 L586.11,80.49 L584.01,80.08 L582.01,79.51 L580.16,78.79 L578.49,77.95 L577.02,76.98 L575.79,75.92 L574.81,74.76 L574.09,73.55 L573.66,72.29 L573.51,71.01 L573.66,69.73 L574.09,68.47 L574.81,67.25 L575.79,66.10 L577.02,65.03 L578.49,64.07 L580.16,63.22 L582.01,62.51 L584.01,61.94 L586.11,61.53 L588.29,61.28 L590.51,61.19 L592.73,61.28 L594.91,61.53 L597.02,61.94 L599.01,62.51 L600.86,63.22 L602.53,64.07 L604.00,65.03 L605.23,66.10 L606.22,67.25 L606.93,68.47 L607.37,69.73 L607.51,71.01 L607.37,72.29 L606.93,73.55 L606.22,74.76 L605.23,75.92 L604.00,76.98 L602.53,77.95 Z" stroke="#333" stroke-width="0.8" fill="#fff" stroke-linejoin="round"/>
<path d="M580.71,51.09 L580.71,71.01 A9.80,5.66 0 0 0 600.31,71.01 L600.31,51.09 A9.80,5.66 0 0 0 580.71,51.09 Z" stroke="#222" stroke-width="0.9" fill="#fff"/>
<ellipse cx="590.51" cy="51.09" rx="9.80" ry="5.66" stroke="#222" stroke-width="0.9" fill="#fff"/>
<path d="M596.17,52.72 L595.38,53.12 L594.51,53.45 L593.57,53.72 L592.58,53.91 L591.56,54.03 L590.51,54.07 L589.47,54.03 L588.44,53.91 L587.45,53.72 L586.51,53.45 L585.64,53.12 L584.85,52.72 L584.16,52.26 L583.58,51.76 L583.12,51.22 L582.78,50.65 L582.58,50.06 L582.51,49.45 L582.58,48.85 L582.78,48.26 L583.12,47.68 L583.58,47.14 L584.16,46.64 L584.85,46.19 L585.64,45.79 L586.51,45.45 L587.45,45.19 L588.44,44.99 L589.47,44.87 L590.51,44.83 L591.56,44.87 L592.58,44.99 L593.57,45.19 L594.51,45.45 L595.38,45.79 L596.17,46.19 L596.86,46.64 L597.44,47.14 L597.90,47.68 L598.24,48.26 L598.44,48.85 L598.51,49.45 L598.44,50.06 L598.24,50.65 L597.90,51.22 L597.44,51.76 L596.86,52.26 L596.17,52.72 Z" stroke="#333" stroke-width="0.8" fill="#fff" stroke-linejoin="round"/>
<path d="M621.09,111.59 L621.09,116.16 A20.90,12.07 0 0 0 662.89,116.16 L662.89,111.59 A20.90,12.07 0 0 0 621.09,111.59 Z" stroke="#222" stroke-width="0.9" fill="#fff"/>
<ellipse cx="641.99" cy="111.59" rx="20.90" ry="12.07" stroke="#222" stroke-width="0.9" fill="#fff"/>
<path d="M626.36,124.20 L626.36,119.63" stroke="#222" stroke-width="0.9" fill="none" stroke-linejoin="round"/>
<path d="M628.06,125.18 L628.06,120.61" stroke="#222" stroke-width="0.9" fill="none" stroke-linejoin="round"/>
<path d="M660.92,113.46 Q653.99,119.09 647.06,121.46 L647.06,113.21 Q653.99,106.11 660.92,105.21 Z" stroke="#222" stroke-width="0.9" fill="#fff" stroke-linejoin="round"/>
<path d="M647.06,121.46 Q637.60,121.63 628.13,118.53 L628.13,110.28 Q637.60,108.64 647.06,113.21 Z" stroke="#222" stroke-width="0.9" fill="#fff" stroke-linejoin="round"/>
<path d="M628.13,118.53 Q625.59,114.70 623.06,107.60 L623.06,99.35 Q625.59,101.71 628.13,110.28 Z" stroke="#222" stroke-width="0.9" fill="#fff" stroke-linejoin="round"/>
<path d="M655.85,94.28 Q658.38,96.64 660.92,105.21 Q653.99,106.11 647.06,113.21 Q637.60,108.64 628.13,110.28 Q625.59,101.71 623.06,99.35 Q629.99,92.25 636.92,91.35 Q646.38,89.71 655.85,94.28 Z" stroke="#222" stroke-width="0.9" fill="#fff" stroke-linejoin="round"/>
<path d="M654.01,107.67 L652.34,108.52 L650.49,109.23 L648.49,109.80 L646.39,110.21 L644.21,110.46 L641.99,110.54 L639.77,110.46 L637.59,110.21 L635.48,109.80 L633.49,109.23 L631.64,108.52 L629.97,107.67 L628.50,106.70 L627.27,105.64 L626.28,104.48 L625.57,103.27 L625.13,102.01 L624.99,100.73 L625.13,99.45 L625.57,98.19 L626.28,96.97 L627.27,95.82 L628.50,94.75 L629.97,93.79 L631.64,92.94 L633.49,92.23 L635.48,91.66 L637.59,91.25 L639.77,91.00 L641.99,90.91 L644.21,91.00 L646.39,91.25 L648.49,91.66 L650.49,92.23 L652.34,92.94 L654.01,93.79 L655.48,94.75 L656.71,95.82 L657.69,96.97 L658.41,98.19 L658.84,99.45 L658.99,100.73 L658.84,102.01 L658.41,103.27 L657.69,104.48 L656.71,105.64 L655.48,106.70 L654.01,107.67 Z" stroke="#333" stroke-width="0.8" fill="#fff" stroke-linejoin="round"/>
<path d="M632.19,80.81 L632.19,100.73 A9.80,5.66 0 0 0 651.79,100.73 L651.79,80.81 A9.80,5.66 0 0 0 632.19,80.81 Z" stroke="#222" stroke-width="0.9" fill="#fff"/>
<ellipse cx="641.99" cy="80.81" rx="9.80" ry="5.66" stroke="#222" stroke-width="0.9" fill="#fff"/>
<path d="M647.65,82.44 L646.86,82.84 L645.99,83.17 L645.05,83.44 L644.06,83.63 L643.03,83.75 L641.99,83.79 L640.94,83.75 L639.92,83.63 L638.93,83.44 L637.99,83.17 L637.12,82.84 L636.33,82.44 L635.64,81.98 L635.06,81.48 L634.60,80.94 L634.26,80.37 L634.06,79.78 L633.99,79.17 L634.06,78.57 L634.26,77.98 L634.60,77.41 L635.06,76.86 L635.64,76.36 L636.33,75.91 L637.12,75.51 L637.99,75.17 L638.93,74.91 L639.92,74.71 L640.94,74.59 L641.99,74.55 L643.03,74.59 L644.06,74.71 L645.05,74.91 L645.99,75.17 L646.86,75.51 L647.65,75.91 L648.34,76.36 L648.92,76.86 L649.38,77.41 L649.72,77.98 L649.92,78.57 L649.99,79.17 L649.92,79.78 L649.72,80.37 L649.38,80.94 L648.92,81.48 L648.34,81.98 L647.65,82.44 Z" stroke="#333" stroke-width="0.8" fill="#fff" stroke-linejoin="round"/>
<path d="M672.57,141.31 L672.57,145.88 A20.90,12.07 0 0 0 714.37,145.88 L714.37,141.31 A20.90,12.07 0 0 0 672.57,141.31 Z" stroke="#222" stroke-width="0.9" fill="#fff"/>
<ellipse cx="693.47" cy="141.31" rx="20.90" ry="12.07" stroke="#222" stroke-width="0.9" fill="#fff"/>
<path d="M677.84,153.92 L677.84,149.35" stroke="#222" stroke-width="0.9" fill="none" stroke-linejoin="round"/>
<path d="M679.54,154.90 L679.54,150.33" stroke="#222" stroke-width="0.9" fill="none" stroke-linejoin="round"/>
<path d="M712.40,143.18 Q705.47,148.81 698.54,151.18 L698.54,142.93 Q705.47,135.83 712.40,134.93 Z" stroke="#222" stroke-width="0.9" fill="#fff" stroke-linejoin="round"/>
<path d="M698.54,151.18 Q689.07,151.35 679.61,148.25 L679.61,140.00 Q689.07,138.36 698.54,142.93 Z" stroke="#222" stroke-width="0.9" fill="#fff" stroke-linejoin="round"/>
<path d="M679.61,148.25 Q677.07,144.42 674.53,137.32 L674.53,129.07 Q677.07,131.43 679.61,140.00 Z" stroke="#222" stroke-width="0.9" fill="#fff" stroke-linejoin="round"/>
<path d="M707.33,124.00 Q709.86,126.36 712.40,134.93 Q705.47,135.83 698.54,142.93 Q689.07,138.36 679.61,140.00 Q677.07,131.43 674.53,129.07 Q681.46,121.97 688.39,121.07 Q697.86,119.43 707.33,124.00 Z" stroke="#222" stroke-width="0.9" fill="#fff" stroke-linejoin="round"/>
<path d="M705.49,137.39 L703.82,138.24 L701.97,138.95 L699.97,139.52 L697.87,139.93 L695.69,140.18 L693.47,140.26 L691.25,140.18 L689.07,139.93 L686.96,139.52 L684.97,138.95 L683.12,138.24 L681.45,137.39 L679.98,136.42 L678.74,135.36 L677.76,134.21 L677.05,132.99 L676.61,131.73 L676.47,130.45 L676.61,129.17 L677.05,127.91 L677.76,126.69 L678.74,125.54 L679.98,124.47 L681.45,123.51 L683.12,122.66 L684.97,121.95 L686.96,121.38 L689.07,120.97 L691.25,120.72 L693.47,120.63 L695.69,120.72 L697.87,120.97 L699.97,121.38 L701.97,121.95 L703.82,122.66 L705.49,123.51 L706.95,124.47 L708.19,125.54 L709.17,126.69 L709.89,127.91 L710.32,129.17 L710.47,130.45 L710.32,131.73 L709.89,132.99 L709.17,134.21 L708.19,135.36 L706.95,136.42 L705.49,137.39 Z" stroke="#333" stroke-width="0.8" fill="#fff" stroke-linejoin="round"/>
<path d="M683.67,110.53 L683.67,130.45 A9.80,5.66 0 0 0 703.27,130.45 L703.27,110.53 A9.80,5.66 0 0 0 683.67,110.53 Z" stroke="#222" stroke-width="0.9" fill="#fff"/>
<ellipse cx="693.47" cy="110.53" rx="9.80" ry="5.66" stroke="#222" stroke-width="0.9" fill="#fff"/>
<path d="M699.12,112.16 L698.34,112.56 L697.47,112.89 L696.53,113.16 L695.54,113.35 L694.51,113.47 L693.47,113.51 L692.42,113.47 L691.40,113.35 L690.40,113.16 L689.47,112.89 L688.60,112.56 L687.81,112.16 L687.12,111.71 L686.54,111.20 L686.08,110.66 L685.74,110.09 L685.53,109.50 L685.47,108.89 L685.53,108.29 L685.74,107.70 L686.08,107.13 L686.54,106.58 L687.12,106.08 L687.81,105.63 L688.60,105.23 L689.47,104.89 L690.40,104.63 L691.40,104.43 L692.42,104.31 L693.47,104.27 L694.51,104.31 L695.54,104.43 L696.53,104.63 L697.47,104.89 L698.34,105.23 L699.12,105.63 L699.81,106.08 L700.39,106.58 L700.86,107.13 L701.19,107.70 L701.40,108.29 L701.47,108.89 L701.40,109.50 L701.19,110.09 L700.86,110.66 L700.39,111.20 L699.81,111.71 L699.12,112.16 Z" stroke="#333" stroke-width="0.8" fill="#fff" stroke-linejoin="round"/>
</svg></body></html>
